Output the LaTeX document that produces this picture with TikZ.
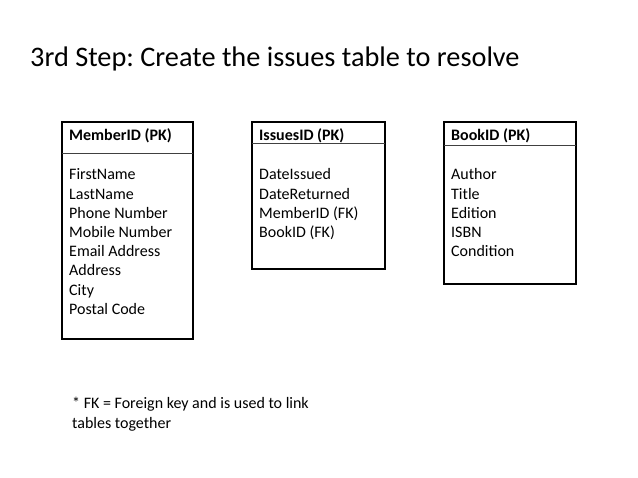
\documentclass[tikz,border=0pt]{standalone}
\usepackage{fontspec}
\setmainfont{Carlito}
\frenchspacing
\begin{document}
\begin{tikzpicture}[x=1pt,y=-1pt,
  txt/.style={anchor=base west,inner sep=0pt,font=\fontsize{16}{19.2}\selectfont},
  hdr/.style={anchor=base west,inner sep=0pt,font=\fontsize{16}{19.2}\selectfont\bfseries},
  tbl/.style={draw=black,line width=1.6pt},
  sep/.style={draw=black!75,line width=0.9pt}]
\useasboundingbox[fill=white] (0,0) rectangle (638,478);
\node[anchor=base west,inner sep=0pt,font=\fontsize{28.3}{34}\selectfont] (title) at (30,66.5) {3rd Step: Create the issues table to resolve};
% Member table
\draw[tbl] (62,122) rectangle (193,339);
\draw[sep] (62,153) -- (193,153);
\node[hdr] (mh) at (69,141) {MemberID (PK)};
\foreach \t [count=\i] in {FirstName,LastName,Phone Number,Mobile Number,Email Address,Address,City,Postal Code}
  \node[txt] (m\i) at (69,{180+19.2*(\i-1)}) {\t};
% Issues table
\draw[tbl] (252,122) rectangle (385,269);
\draw[sep] (252,143) -- (385,143);
\node[hdr] (ih) at (259,141) {IssuesID (PK)};
\foreach \t [count=\i] in {DateIssued,DateReturned,MemberID (FK),BookID (FK)}
  \node[txt] (i\i) at (259,{180+19.2*(\i-1)}) {\t};
% Book table
\draw[tbl] (444,122) rectangle (576,284);
\draw[sep] (444,145) -- (576,145);
\node[hdr] (bh) at (451,141) {BookID (PK)};
\foreach \t [count=\i] in {Author,Title,Edition,ISBN,Condition}
  \node[txt] (b\i) at (451,{180+19.2*(\i-1)}) {\t};
% footnote
\node[txt] (fn1) at (72,409) {* FK = Foreign key and is used to link};
\node[txt] (fn2) at (72,428.2) {tables together};
\end{tikzpicture}
\end{document}
